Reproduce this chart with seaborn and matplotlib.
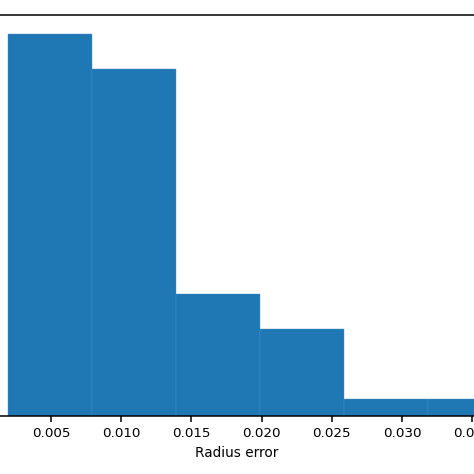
import numpy as np
import pandas as pd
import matplotlib
matplotlib.use("Agg")
import matplotlib.pyplot as plt
import seaborn as sns

# Histogram of radius error (counts)
bin_edges = [0.00194, 0.00792, 0.01390, 0.01988, 0.02587, 0.03185, 0.03783]
counts = [22, 20, 7, 5, 1, 1]
x_ticks = [0.005, 0.010, 0.015, 0.020, 0.025, 0.030, 0.035]

centers = [(a + b) / 2 for a, b in zip(bin_edges[:-1], bin_edges[1:])]
df = pd.DataFrame({"radius_error": centers, "count": counts})

fig = plt.figure(figsize=(4.74, 4.74), dpi=100)
# the reference is cropped: y-axis and right side fall outside the picture
ax = fig.add_axes([0.0, 1 - 416 / 474, 1.0, (416 - 15) / 474])

sns.histplot(data=df, x="radius_error", weights="count", bins=bin_edges,
             color="#1f77b4", alpha=1, edgecolor="#4a93c8", linewidth=0.3, ax=ax)

ax.set_xlim(0.005 - 51 / 14040, 0.005 + 423 / 14040)
ax.set_ylim(0, max(counts) * 1.05)
ax.set_xticks(x_ticks)
ax.set_xticklabels([f"{t:.3f}" for t in x_ticks], fontsize=9.7)
ax.tick_params(axis="x", width=1.1, length=4, pad=4)
ax.set_yticks([])
ax.set_ylabel("")
ax.set_xlabel("Radius error", fontsize=9.8, labelpad=4)
ax.spines["left"].set_visible(False)
ax.spines["right"].set_visible(False)
for s in ["top", "bottom"]:
    ax.spines[s].set_linewidth(1.1)

fig.savefig("out.png", dpi=100)
